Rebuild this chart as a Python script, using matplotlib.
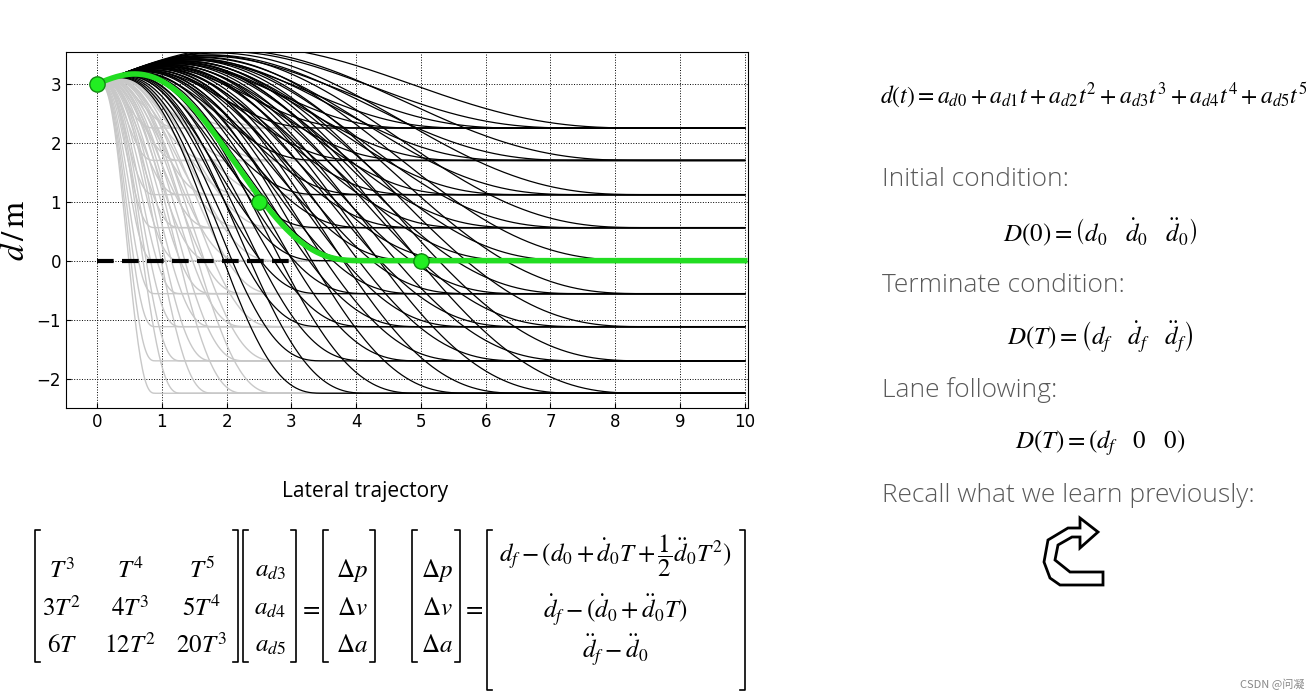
import numpy as np
import matplotlib.pyplot as plt
from matplotlib.lines import Line2D
from matplotlib.patches import Polygon

plt.rcParams['mathtext.fontset'] = 'stix'

# trajectory parameters
d_start = 3.0
v_start = 0.45
end_offsets = [2.25, 1.7, 1.12, 0.56, 0.0, -0.56, -1.12, -1.7, -2.25]
gray_times = [0.9, 1.3, 1.8, 2.3, 2.8]
black_times = [3.5, 4.2, 5.0, 5.8, 6.6, 7.5, 8.5]
green_T = 4.1
key_t = [0, 2.5, 5]
key_d = [3, 1, 0]

W, H = 1314, 699
fig = plt.figure(figsize=(W / 100, H / 100), dpi=100)


def px(x, y):
    return x / W, 1 - y / H


def quintic(d0, v0, df, T, t):
    # lateral quintic with zero end velocity/acceleration
    M = np.array([[T**3, T**4, T**5], [3*T**2, 4*T**3, 5*T**4], [6*T, 12*T**2, 20*T**3]])
    b = np.array([df - (d0 + v0*T), -v0, 0.0])
    a3, a4, a5 = np.linalg.solve(M, b)
    tt = np.minimum(t, T)
    return d0 + v0*tt + a3*tt**3 + a4*tt**4 + a5*tt**5


ax = fig.add_axes([66 / W, 1 - 408 / H, 682 / W, 356 / H])
t = np.linspace(0, 10, 600)
for T in gray_times:
    for df in end_offsets:
        ax.plot(t, quintic(d_start, v_start, df, T, t), color='#c8c8c8', lw=1)
for T in black_times:
    for df in end_offsets:
        ax.plot(t, quintic(d_start, v_start, df, T, t), color='black', lw=0.9)
ax.plot([0, 3], [0, 0], color='black', lw=3, ls=(0, (4, 2)))
ax.plot(t, quintic(d_start, v_start, 0.0, green_T, t), color='#22dd22', lw=4)
ax.plot(key_t, key_d, 'o', color='#22ee22', mec='#118811', ms=11, ls='none')
ax.set_xlim(-0.48, 10.05)
ax.set_ylim(-2.5, 3.54)
ax.set_xticks(range(11))
ax.set_yticks(range(-2, 4))
ax.set_yticklabels(['\u22122', '\u22121', '0', '1', '2', '3'])
ax.tick_params(labelsize=12, direction='in')
ax.grid(True, color='black', ls=':', lw=0.7)
ax.set_ylabel(r'$d\,/\,\mathrm{m}$', fontsize=24)

fig.text(*px(365, 492), 'Lateral trajectory', ha='center', va='center', fontsize=15, family='Open Sans')

# right side text
gray = '#595959'
fig.text(*px(880, 95), r'$d(t)=a_{d0}+a_{d1}t+a_{d2}t^2+a_{d3}t^3+a_{d4}t^4+a_{d5}t^5$',
         ha='left', va='center', fontsize=17)
for y, s in [(180, 'Initial condition:'), (285, 'Terminate condition:'),
             (390, 'Lane following:'), (495, 'Recall what we learn previously:')]:
    fig.text(*px(882, y), s, ha='left', va='center', fontsize=19, color=gray,
             family='Open Sans', fontweight='light')
fig.text(*px(1100, 233), r'$D(0)=\left(d_0\quad \dot{d}_0\quad \ddot{d}_0\right)$', ha='center', va='center', fontsize=18)
fig.text(*px(1100, 337), r'$D(T)=\left(d_f\quad \dot{d}_f\quad \ddot{d}_f\right)$', ha='center', va='center', fontsize=18)
fig.text(*px(1100, 443), r'$D(T)=\left(d_f\quad 0\quad 0\right)$', ha='center', va='center', fontsize=18)

# u-turn icon
icon = [(1060, 585), (1103, 585), (1103, 572), (1070, 572), (1055, 560), (1058, 545), (1072, 537),
        (1080, 537), (1080, 548), (1098, 532), (1080, 518), (1080, 528), (1068, 528), (1048, 540),
        (1044, 562), (1050, 578)]
fig.add_artist(Polygon([px(*p) for p in icon], closed=True, fill=False, ec='black', lw=2))


def bracket(x0, x1, y0, y1, lw=1.2):
    for xs, ys in [([x0 + 5, x0, x0, x0 + 5], [y0, y0, y1, y1]),
                   ([x1 - 5, x1, x1, x1 - 5], [y0, y0, y1, y1])]:
        p = [px(a, b) for a, b in zip(xs, ys)]
        fig.add_artist(Line2D([q[0] for q in p], [q[1] for q in p], color='black', lw=lw))


def put(x, y, s, size=18):
    fig.text(*px(x, y), s, ha='center', va='center', fontsize=size)


rows = [570, 608, 645]
mat = [[r'$T^3$', r'$T^4$', r'$T^5$'], [r'$3T^2$', r'$4T^3$', r'$5T^4$'], [r'$6T$', r'$12T^2$', r'$20T^3$']]
for y, row in zip(rows, mat):
    for x, s in zip([62, 130, 202], row):
        put(x, y, s)
bracket(35, 238, 530, 662)
for y, s in zip(rows, [r'$a_{d3}$', r'$a_{d4}$', r'$a_{d5}$']):
    put(270, y, s)
bracket(243, 296, 530, 662)
put(310, 608, r'$=$')
for y, s in zip(rows, [r'$\Delta p$', r'$\Delta v$', r'$\Delta a$']):
    put(352, y, s)
    put(437, y, s)
bracket(323, 375, 530, 662)
bracket(412, 460, 530, 662)
put(473, 608, r'$=$')
bracket(487, 745, 530, 690)
put(615, 556, r'$d_f-(d_0+\dot{d}_0T+\dfrac{1}{2}\ddot{d}_0T^2)$')
put(615, 610, r'$\dot{d}_f-(\dot{d}_0+\ddot{d}_0T)$')
put(615, 650, r'$\ddot{d}_f-\ddot{d}_0$')

fig.text(*px(1305, 684), 'CSDN @问凝', ha='right', va='center', fontsize=8, color='#888888',
         family=['Noto Sans CJK SC', 'DejaVu Sans'])

fig.savefig('out.png', dpi=100)
